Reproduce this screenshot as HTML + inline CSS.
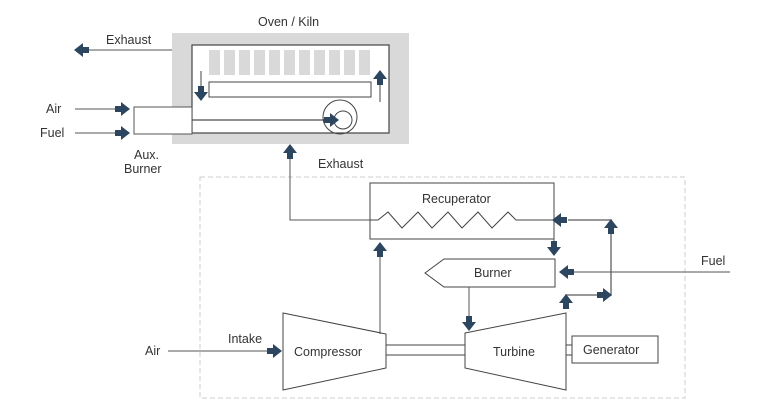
<!DOCTYPE html>
<html><head><meta charset="utf-8"><style>
body{margin:0;background:#fff}
svg{display:block}
text{font-family:"Liberation Sans",sans-serif;font-size:12.5px;fill:#333}
</style></head><body>
<svg width="768" height="410" viewBox="0 0 768 410">
<defs>
<g id="ar"><polygon points="-2,-7 7,0 -2,7" fill="#2d4660"/><rect x="-8" y="-3" width="7" height="6" fill="#2d4660"/></g>
</defs>
<rect x="172" y="33" width="237" height="111" fill="#d9d9d9"/>
<rect x="192" y="45" width="197" height="88" fill="#fff" stroke="#444" stroke-width="1.2"/>
<g fill="#d9d9d9">
<rect x="209" y="50" width="11" height="25"/><rect x="224" y="50" width="11" height="25"/><rect x="239" y="50" width="11" height="25"/><rect x="254" y="50" width="11" height="25"/><rect x="269" y="50" width="11" height="25"/><rect x="284" y="50" width="11" height="25"/><rect x="299" y="50" width="11" height="25"/><rect x="314" y="50" width="11" height="25"/><rect x="329" y="50" width="11" height="25"/><rect x="344" y="50" width="11" height="25"/><rect x="359" y="50" width="11" height="25"/>
</g>
<rect x="209" y="82" width="162" height="15" fill="#fff" stroke="#444" stroke-width="1"/>
<line x1="201" y1="71" x2="201" y2="92" stroke="#444"/><use href="#ar" transform="translate(201,94) rotate(90)"/>
<line x1="380" y1="102" x2="380" y2="80" stroke="#444"/><use href="#ar" transform="translate(380,77) rotate(-90)"/>
<circle cx="340" cy="117" r="17" fill="none" stroke="#444"/>
<circle cx="343" cy="120" r="9" fill="none" stroke="#444"/>
<line x1="192" y1="120" x2="330" y2="120" stroke="#222"/><use href="#ar" transform="translate(332,120)"/>
<rect x="134" y="107" width="58" height="27" fill="#fff" stroke="#555"/>
<line x1="75" y1="109" x2="120" y2="109" stroke="#555"/><use href="#ar" transform="translate(123,109)"/>
<line x1="75" y1="133" x2="120" y2="133" stroke="#555"/><use href="#ar" transform="translate(123,133)"/>
<line x1="172" y1="50" x2="85" y2="50" stroke="#555"/><use href="#ar" transform="translate(81,50) rotate(180)"/>
<text x="106" y="44">Exhaust</text>
<text x="258" y="26">Oven / Kiln</text>
<text x="46" y="113">Air</text>
<text x="40" y="137">Fuel</text>
<text x="134" y="159">Aux.</text>
<text x="124" y="173">Burner</text>
<text x="318" y="168">Exhaust</text>
<rect x="200" y="177" width="485" height="221" fill="none" stroke="#ccc" stroke-dasharray="5,3"/>
<polyline points="290,156 290,220 378,220" fill="none" stroke="#555"/>
<use href="#ar" transform="translate(290,151) rotate(-90)"/>
<rect x="370" y="183" width="184" height="56" fill="#fff" stroke="#444"/>
<text x="422" y="203">Recuperator</text>
<polyline points="370,220 378,220 388,212 402,228 418,212 432,228 448,212 462,228 478,212 492,228 508,212 516,220 562,220" fill="none" stroke="#444"/>
<use href="#ar" transform="translate(559,220) rotate(180)"/>
<polyline points="568,220 611,220 611,295 566,295 566,305" fill="none" stroke="#777" stroke-width="1.5"/>
<use href="#ar" transform="translate(611,226) rotate(-90)"/>
<use href="#ar" transform="translate(605,295)"/>
<use href="#ar" transform="translate(566,301) rotate(-90)"/>
<line x1="554" y1="239" x2="554" y2="246" stroke="#555"/>
<use href="#ar" transform="translate(554,249) rotate(90)"/>
<polygon points="425,273 444,259 555,259 555,287 444,287" fill="#fff" stroke="#444"/>
<text x="474" y="277">Burner</text>
<line x1="730" y1="272" x2="570" y2="272" stroke="#555"/><use href="#ar" transform="translate(566,272) rotate(180)"/>
<text x="701" y="265">Fuel</text>
<line x1="469" y1="287" x2="469" y2="320" stroke="#555"/><use href="#ar" transform="translate(469,324) rotate(90)"/>
<polygon points="283,313 386,334 386,368 283,390" fill="#fff" stroke="#444"/>
<text x="294" y="356">Compressor</text>
<polygon points="465,333 566,313 566,390 465,368" fill="#fff" stroke="#444"/>
<text x="493" y="356">Turbine</text>
<line x1="386" y1="345" x2="465" y2="345" stroke="#444"/><line x1="386" y1="355" x2="465" y2="355" stroke="#444"/>
<line x1="566" y1="345" x2="572" y2="345" stroke="#444"/><line x1="566" y1="355" x2="572" y2="355" stroke="#444"/>
<rect x="572" y="336" width="86" height="27" fill="#fff" stroke="#444"/>
<text x="583" y="354">Generator</text>
<line x1="380" y1="334" x2="380" y2="256" stroke="#555"/><use href="#ar" transform="translate(380,249) rotate(-90)"/>
<line x1="168" y1="351" x2="270" y2="351" stroke="#555"/><use href="#ar" transform="translate(275,351)"/>
<text x="145" y="355">Air</text>
<text x="228" y="343">Intake</text>
</svg>
</body></html>
